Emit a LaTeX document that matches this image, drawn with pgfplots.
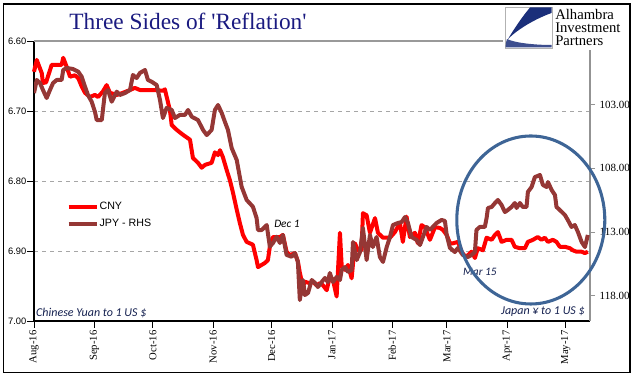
\documentclass[border=0pt]{standalone}
\usepackage{pgfplots}
\usepackage{pgfplotstable}
\pgfplotsset{compat=1.18}
\usepackage{fontspec}
\setmainfont{Liberation Serif}
\setsansfont{Liberation Sans}
\newfontfamily\calibri{Carlito}
\definecolor{cnyc}{HTML}{FF0000}
\definecolor{jpyc}{HTML}{953735}
\definecolor{titlec}{HTML}{1A1A80}
\definecolor{circc}{HTML}{3E6596}
\definecolor{annoc}{HTML}{14204F}
\definecolor{logoc}{HTML}{1B2F7A}

% day = days since 1 Aug 2016
\pgfplotstableread{
day cny
0 6.644
1.4 6.627
4 6.646
4.6 6.660
6.2 6.659
9.1 6.634
14.2 6.634
15.0 6.624
16.8 6.637
18.5 6.651
21.0 6.649
22.7 6.653
24.5 6.665
26.2 6.674
28.7 6.680
31.3 6.677
32.9 6.680
35.4 6.672
37.3 6.663
39.0 6.674
42.5 6.677
45.7 6.674
49.3 6.670
51.8 6.667
54.4 6.670
57.9 6.670
61.1 6.670
66.2 6.671
67.2 6.669
69.8 6.699
70.7 6.720
73.3 6.727
76.5 6.734
80.1 6.741
81.6 6.767
84.2 6.774
86.1 6.781
87.8 6.777
91.2 6.774
92.9 6.759
94.5 6.763
95.5 6.756
97.0 6.766
98.9 6.784
100.6 6.799
102.2 6.817
104.1 6.841
105.7 6.860
107.3 6.877
109.2 6.887
112.4 6.891
114.3 6.913
115.0 6.923
118.6 6.917
120.1 6.913
121.1 6.894
122.7 6.880
126.3 6.880
127.8 6.877
129.7 6.901
131.4 6.906
134.0 6.903
135.5 6.915
136.5 6.931
138.1 6.951
139.1 6.944
141.7 6.946
143.2 6.944
145.1 6.949
146.8 6.946
148.4 6.949
150.3 6.956
151.9 6.937
153.5 6.941
155.4 6.965
157.1 6.874
158.0 6.922
159.7 6.927
161.2 6.920
163.1 6.939
164.8 6.889
166.3 6.899
168.2 6.899
168.9 6.846
170.8 6.849
172.5 6.874
175.1 6.853
176.6 6.874
179.2 6.881
182.8 6.881
185.3 6.873
187.9 6.860
189.4 6.887
191.3 6.851
193.0 6.880
195.6 6.874
197.1 6.889
199.0 6.863
200.7 6.866
203.3 6.884
205.9 6.866
208.4 6.867
210.0 6.870
211.9 6.877
213.6 6.889
215.1 6.889
217.7 6.887
219.6 6.901
221.3 6.908
222.8 6.906
224.7 6.901
226.4 6.910
227.9 6.896
230.5 6.899
232.4 6.881
235.0 6.884
236.7 6.877
238.2 6.873
240.1 6.887
242.7 6.884
245.2 6.884
246.9 6.894
249.5 6.896
252.1 6.896
253.6 6.887
256.2 6.884
258.7 6.880
260.6 6.884
262.3 6.881
263.9 6.887
266.4 6.884
268.3 6.887
270.0 6.894
272.6 6.894
275.2 6.896
276.7 6.899
278.6 6.901
281.2 6.901
282.9 6.903
284.4 6.901
}\cnytable

\pgfplotstableread{
day jpy
0 102.09
1.4 101.06
3.1 101.30
4.6 101.85
6.5 102.48
8.2 101.85
9.8 101.30
11.7 101.06
14.2 101.06
15.0 100.28
16.8 100.12
20.0 100.20
22.7 100.41
24.5 100.81
26.2 101.59
27.7 102.24
29.6 102.77
31.3 103.56
32.2 104.21
34.8 104.21
36.4 102.09
38.0 101.85
39.9 102.77
42.5 101.98
44.1 102.24
46.7 102.09
49.3 101.85
50.8 100.67
52.7 100.91
54.4 100.51
57.0 100.28
58.5 101.06
60.4 101.20
63.0 101.46
64.7 102.64
66.2 104.05
68.1 103.26
70.7 103.42
72.4 104.05
74.9 103.81
77.5 103.81
79.1 103.42
81.0 103.95
84.2 104.21
86.8 104.99
88.7 105.39
91.2 104.99
92.9 103.42
94.5 103.03
96.4 103.66
98.0 104.34
99.6 104.99
101.5 106.41
104.1 107.35
106.6 109.45
109.2 110.49
112.4 111.02
114.3 111.91
115.0 112.85
116.9 112.85
119.5 112.46
121.1 114.16
122.7 113.87
124.6 113.38
126.3 113.87
127.8 113.24
129.7 114.81
132.3 114.95
134.0 114.66
135.5 115.34
136.5 118.35
138.1 116.78
139.1 117.96
140.7 117.80
142.6 116.78
144.3 117.01
145.8 117.33
147.7 116.94
149.4 116.62
150.9 116.94
151.9 116.23
153.5 116.94
155.4 116.54
157.1 116.78
158.0 115.99
159.7 115.76
161.2 116.15
163.1 115.99
163.8 113.79
165.7 115.21
167.4 114.58
168.9 112.69
170.8 115.21
172.5 113.24
174.0 114.19
175.9 113.40
177.6 114.97
179.2 115.36
181.1 114.19
182.8 113.40
184.3 112.46
186.9 112.30
188.8 112.22
190.5 111.83
192.0 112.30
193.9 113.40
196.5 113.64
198.2 114.03
199.7 113.40
201.6 112.61
203.3 112.85
204.8 112.61
206.7 112.30
209.3 112.06
211.0 112.14
211.9 113.24
213.6 114.26
216.1 114.58
217.7 114.26
220.2 114.81
222.8 114.97
224.7 114.81
226.4 114.58
227.2 112.85
228.9 112.61
231.5 112.61
232.4 111.91
233.1 111.12
235.0 111.04
236.7 110.73
238.2 110.49
240.1 110.89
241.8 111.44
243.3 111.28
245.2 111.04
246.9 110.73
247.8 111.12
249.5 110.73
251.0 111.04
252.9 111.04
253.6 109.86
255.5 109.47
257.2 108.69
259.8 108.53
261.3 109.31
263.2 109.47
263.9 109.08
265.8 109.71
267.5 110.10
268.3 111.04
270.0 111.28
272.6 111.67
274.1 112.06
276.0 112.61
277.7 112.46
279.3 113.01
281.2 113.79
282.9 114.19
284.4 113.24
}\jpytable

\begin{document}
\begin{tikzpicture}
\begin{scope}[x=0.75pt,y=0.75pt]
\path[use as bounding box] (0,0) rectangle (641,381);
\end{scope}

\begin{axis}[
  at={(25.5pt,45pt)}, anchor=south west,
  scale only axis, width=417pt, height=210pt,
  xmin=0, xmax=285.5,
  ymin=6.6, ymax=7.0, y dir=reverse,
  axis x line*=bottom, axis y line*=left,
  axis line style={black, line width=0.8pt},
  xtick={0,31,61,92,122,153,184,212,243,273},
  xticklabels={Aug-16,Sep-16,Oct-16,Nov-16,Dec-16,Jan-17,Feb-17,Mar-17,Apr-17,May-17},
  x tick label style={rotate=90, anchor=east, font=\fontsize{8}{9}\selectfont, inner sep=2pt},
  ytick={6.6,6.7,6.8,6.9,7.0},
  /pgf/number format/assume math mode=true,
  yticklabel style={font=\sffamily\fontsize{7}{8}\selectfont, inner sep=0.6pt, /pgf/number format/.cd, fixed, fixed zerofill, precision=2},
  tick align=outside, major tick length=5pt,
  tick style={black, line width=0.6pt},
  ymajorgrids, grid style={gray!70, dashed, line width=0.4pt},
  clip=false,
]
\draw[gray!80, line width=0.8pt] (rel axis cs:0,1) -- (rel axis cs:1,1);
\addplot[cnyc, line width=3pt, line join=round] table[x=day, y=cny] {\cnytable};
\node[font=\calibri\itshape\fontsize{8.5}{9}\selectfont, anchor=center] at (axis cs:129.9,6.861) {Dec 1};
\node[font=\calibri\itshape\fontsize{8.5}{9}\selectfont, text=annoc, anchor=center] at (axis cs:229,6.930) {Mar 15};
\node[font=\calibri\itshape\fontsize{9}{10}\selectfont, text=annoc, anchor=west, inner sep=0pt] at (axis cs:1,6.988) {Chinese Yuan to 1 US \$};
\node[font=\calibri\itshape\fontsize{9}{10}\selectfont, text=annoc, anchor=east, inner sep=0pt] at (axis cs:282.9,6.987) {Japan ¥ to 1 US \$};
\coordinate (C) at (axis cs:255.1,6.8557);
\end{axis}

\begin{axis}[
  at={(25.5pt,45pt)}, anchor=south west,
  scale only axis, width=417pt, height=210pt,
  xmin=0, xmax=285.5,
  ymin=98, ymax=120, y dir=reverse,
  axis x line=none, axis y line*=right,
  axis line style={gray!85, line width=0.8pt},
  ytick={103,108,113,118},
  /pgf/number format/assume math mode=true,
  yticklabel style={font=\fontsize{8.25}{9}\selectfont, /pgf/number format/.cd, fixed, fixed zerofill, precision=2},
  tick align=outside, major tick length=3.75pt,
  tick style={gray!85, line width=0.6pt},
  legend style={draw=none, fill=none, at={(0.058,0.43)}, anchor=north west,
    font=\sffamily\fontsize{8}{9}\selectfont, row sep=4pt, inner sep=0pt,
    nodes={inner sep=0.8pt}},
  legend cell align=left,
  legend image code/.code={\draw[#1] (0pt,0pt) -- (21pt,0pt);},
]
\addlegendimage{cnyc, line width=3pt}
\addlegendentry{CNY}
\addplot[jpyc, line width=3pt, line join=round] table[x=day, y=jpy] {\jpytable};
\addlegendentry{JPY - RHS}
\end{axis}

% annotation ellipse
\draw[circc, line width=2.3pt] (C) ellipse [x radius=55.5pt, y radius=63pt];

\begin{scope}[x=0.75pt,y=0.75pt]
% title
\node[font=\fontsize{17.5}{19}\selectfont, text=titlec] at (188,360) {Three Sides of \textquotesingle Reflation\textquotesingle};
% logo
\fill[white] (503,331) rectangle (628,376);
\draw[gray!60, line width=0.5pt] (505,333) rectangle (552,374);
\fill[logoc] (530,373.5) -- (551.5,373.5) -- (551.5,368) .. controls (535,362) and (518,352) .. (508,342) .. controls (514,352) and (522,364) .. (530,373.5) -- cycle;
\fill[logoc!85] (505.5,333.5) -- (551.5,333.5) -- (551.5,336) .. controls (535,336) and (515,338) .. (507,342) .. controls (506,339) .. (505.5,333.5) -- cycle;
\node[anchor=west, font=\fontsize{11}{9.75}\selectfont, align=left, inner sep=0pt] at (555,354) {Alhambra\\Investment\\Partners};
% frame
\draw[black, line width=1.1pt] (3.5,8.5) rectangle (630,377);
\end{scope}
\end{tikzpicture}
\end{document}
